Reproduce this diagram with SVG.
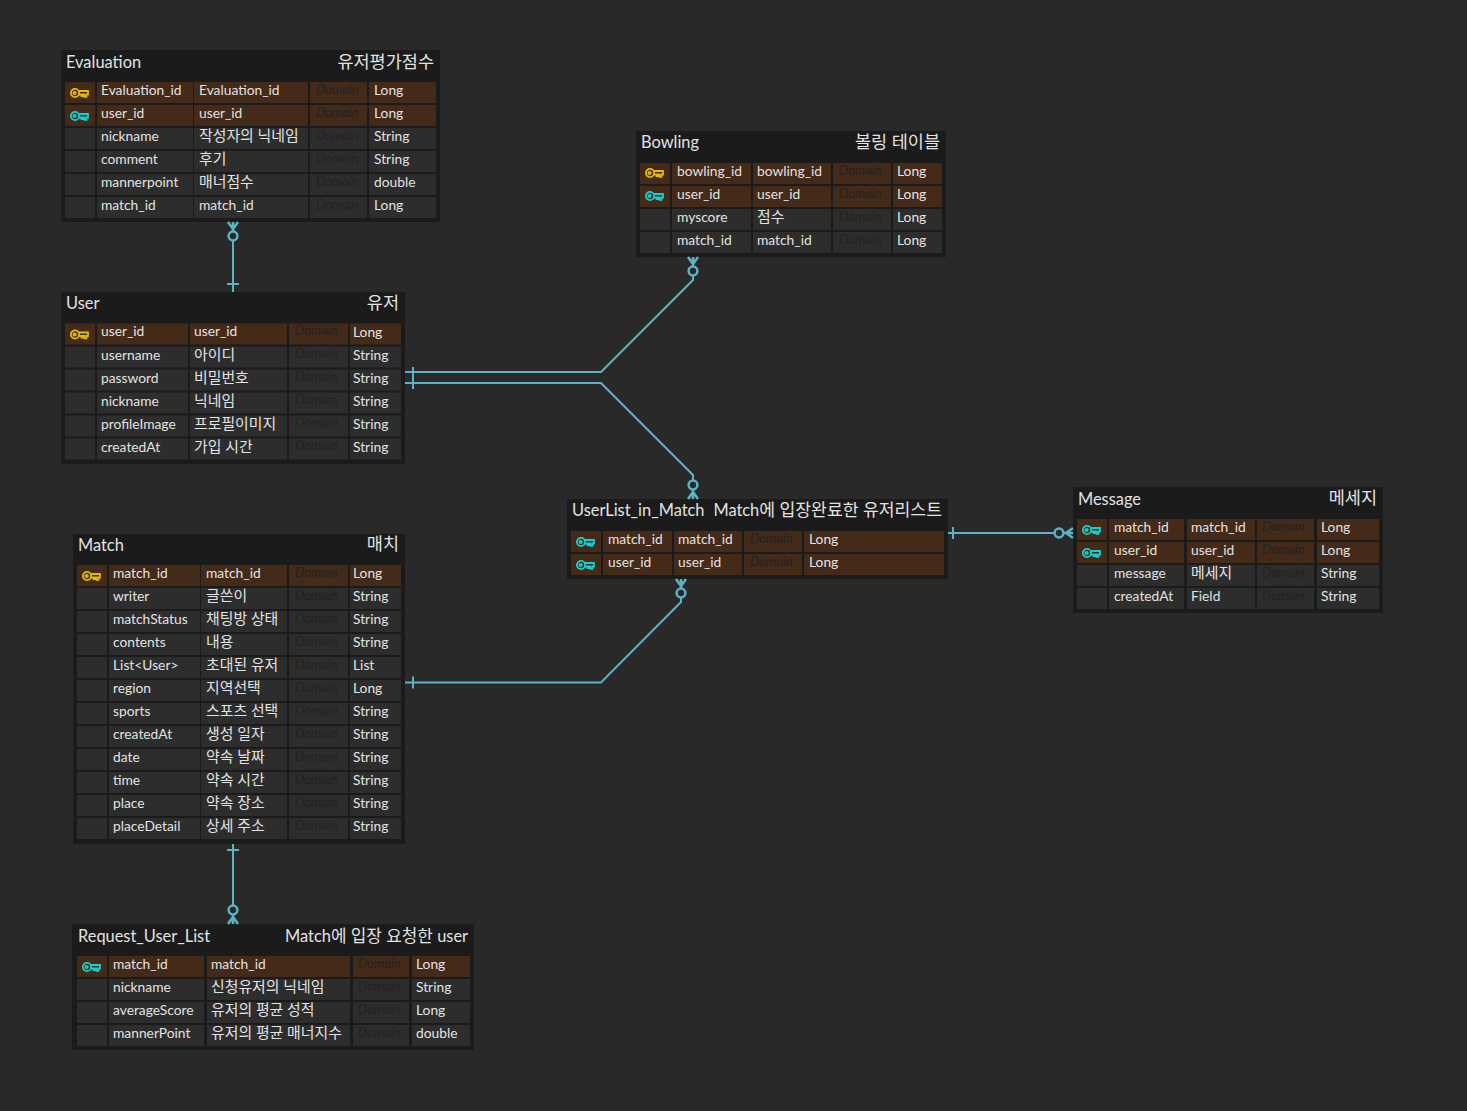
<svg xmlns="http://www.w3.org/2000/svg" xmlns:xlink="http://www.w3.org/1999/xlink" width="1467" height="1111" viewBox="0 0 1467 1111">
<style>
text{font-family:"Lato","Noto Sans CJK KR","Noto Sans",sans-serif;font-size:13.8px;fill:#e2e2e2}
.h{font-size:14.9px;transform:translateY(1px)}
.t{font-size:16.4px}
.th{font-size:17.5px}
text.th{transform:translateY(1px)}
.m1{font-size:17.2px}
.m2{font-size:16.9px}
.r{text-anchor:end}
.d{font-style:italic;fill:#222;font-size:13px}
.box{fill:#1b1b1b}
.n{fill:#2d2d2d}
.p{fill:#432a19}
.k{fill:none;stroke-width:1.8}
.g{stroke:#e3b90c}
.c{stroke:#17cfcf}
.ln{fill:none;stroke:#5ab4c4;stroke-width:2}
.f{fill:none;stroke:#5ab4c4;stroke-width:2.5}
</style>
<defs>
<g id="pk"><circle cx="5" cy="5" r="4.1"/><circle cx="4.600" cy="5" r="1.2"/><path d="M9 3H18V6.500H16.500V8.800H14.500V6.500H13V8H11.500V6.500H9"/></g>
<g id="crow" class="f"><path d="M-5 0L0 7L5 0M0 0V9"/><circle cx="0" cy="14" r="4.400"/></g>
<path id="tick" class="ln" d="M-6 0H6"/>
<g id="ev"><rect x="65" width="30" height="21"/><rect x="97" width="96" height="21"/><rect x="194" width="114" height="21"/><rect x="310" width="57" height="21"/><rect x="369" width="67" height="21"/></g>
<g id="us"><rect x="65" width="30" height="21"/><rect x="97" width="91" height="21"/><rect x="190" width="97" height="21"/><rect x="289" width="59" height="21"/><rect x="350" width="51" height="21"/></g>
<g id="ma"><rect x="77" width="30" height="21"/><rect x="109" width="91" height="21"/><rect x="201" width="86" height="21"/><rect x="289" width="59" height="21"/><rect x="350" width="51" height="21"/></g>
<g id="re"><rect x="77" width="30" height="21"/><rect x="109" width="95" height="21"/><rect x="207" width="143" height="21"/><rect x="353" width="56" height="21"/><rect x="412" width="58" height="21"/></g>
<g id="bo"><rect x="640" width="30" height="21"/><rect x="672" width="79" height="21"/><rect x="753" width="78" height="21"/><rect x="833" width="58" height="21"/><rect x="893" width="49" height="21"/></g>
<g id="ul"><rect x="571" width="30" height="21"/><rect x="603" width="69" height="21"/><rect x="674" width="68" height="21"/><rect x="744" width="58" height="21"/><rect x="804" width="140" height="21"/></g>
<g id="me"><rect x="1077" width="30" height="21"/><rect x="1109" width="75" height="21"/><rect x="1187" width="68" height="21"/><rect x="1257" width="57" height="21"/><rect x="1317" width="62" height="21"/></g>
</defs>
<rect width="1467" height="1111" fill="#292929"/>

<g id="Evaluation">
<rect class="box" x="61" y="50" width="379" height="172"/>
<text class="t" x="66" y="67.500">Evaluation</text><text class="th r" x="434" y="67">유저평가점수</text>
<use href="#ev" y="82" class="p"/><use href="#ev" y="105" class="p"/><use href="#ev" y="128" class="n"/><use href="#ev" y="151" class="n"/><use href="#ev" y="174" class="n"/><use href="#ev" y="197" class="n"/>
<use href="#pk" x="70" y="88" class="k g"/><use href="#pk" x="70" y="111" class="k c"/>
<text x="101" y="95">Evaluation_id</text><text x="199" y="95">Evaluation_id</text><text class="d" x="316" y="94">Domain</text><text x="374" y="95">Long</text>
<text x="101" y="118">user_id</text><text x="199" y="118">user_id</text><text class="d" x="316" y="117">Domain</text><text x="374" y="118">Long</text>
<text x="101" y="141">nickname</text><text class="h" x="199" y="140">작성자의 닉네임</text><text class="d" x="316" y="140">Domain</text><text x="374" y="141">String</text>
<text x="101" y="164">comment</text><text class="h" x="199" y="163">후기</text><text class="d" x="316" y="163">Domain</text><text x="374" y="164">String</text>
<text x="101" y="187">mannerpoint</text><text class="h" x="199" y="186">매너점수</text><text class="d" x="316" y="186">Domain</text><text x="374" y="187">double</text>
<text x="101" y="210">match_id</text><text x="199" y="210">match_id</text><text class="d" x="316" y="209">Domain</text><text x="374" y="210">Long</text>
</g>

<g id="User">
<rect class="box" x="61" y="292" width="344" height="172"/>
<text class="t" x="66" y="309">User</text><text class="th r" x="399" y="308">유저</text>
<use href="#us" y="323.500" class="p"/><use href="#us" y="346.500" class="n"/><use href="#us" y="369.500" class="n"/><use href="#us" y="392.500" class="n"/><use href="#us" y="415.500" class="n"/><use href="#us" y="438.500" class="n"/>
<use href="#pk" x="70" y="329.500" class="k g"/>
<text x="101" y="336">user_id</text><text x="194" y="336">user_id</text><text class="d" x="295" y="335">Domain</text><text x="353" y="336.500">Long</text>
<text x="101" y="359.500">username</text><text class="h" x="194" y="359">아이디</text><text class="d" x="295" y="358">Domain</text><text x="353" y="359.500">String</text>
<text x="101" y="382.500">password</text><text class="h" x="194" y="382">비밀번호</text><text class="d" x="295" y="381">Domain</text><text x="353" y="382.500">String</text>
<text x="101" y="405.500">nickname</text><text class="h" x="194" y="405">닉네임</text><text class="d" x="295" y="404">Domain</text><text x="353" y="405.500">String</text>
<text x="101" y="428.500">profileImage</text><text class="h" x="194" y="428">프로필이미지</text><text class="d" x="295" y="427">Domain</text><text x="353" y="428.500">String</text>
<text x="101" y="451.500">createdAt</text><text class="h" x="194" y="451">가입 시간</text><text class="d" x="295" y="450">Domain</text><text x="353" y="451.500">String</text>
</g>

<g id="Match">
<rect class="box" x="73" y="534" width="332" height="310"/>
<text class="t" x="78" y="551">Match</text><text class="th r" x="399" y="549">매치</text>
<use href="#ma" y="565" class="p"/><use href="#ma" y="588" class="n"/><use href="#ma" y="611" class="n"/><use href="#ma" y="634" class="n"/><use href="#ma" y="657" class="n"/><use href="#ma" y="680" class="n"/><use href="#ma" y="703" class="n"/><use href="#ma" y="726" class="n"/><use href="#ma" y="749" class="n"/><use href="#ma" y="772" class="n"/><use href="#ma" y="795" class="n"/><use href="#ma" y="818" class="n"/>
<use href="#pk" x="82" y="571" class="k g"/>
<text x="113" y="578">match_id</text><text x="206" y="578">match_id</text><text class="d" x="295" y="577">Domain</text><text x="353" y="578">Long</text>
<text x="113" y="601">writer</text><text class="h" x="206" y="600">글쓴이</text><text class="d" x="295" y="600">Domain</text><text x="353" y="601">String</text>
<text x="113" y="624">matchStatus</text><text class="h" x="206" y="623">채팅방 상태</text><text class="d" x="295" y="623">Domain</text><text x="353" y="624">String</text>
<text x="113" y="647">contents</text><text class="h" x="206" y="646">내용</text><text class="d" x="295" y="646">Domain</text><text x="353" y="647">String</text>
<text x="113" y="670">List&lt;User&gt;</text><text class="h" x="206" y="669">초대된 유저</text><text class="d" x="295" y="669">Domain</text><text x="353" y="670">List</text>
<text x="113" y="693">region</text><text class="h" x="206" y="692">지역선택</text><text class="d" x="295" y="692">Domain</text><text x="353" y="693">Long</text>
<text x="113" y="716">sports</text><text class="h" x="206" y="715">스포츠 선택</text><text class="d" x="295" y="715">Domain</text><text x="353" y="716">String</text>
<text x="113" y="739">createdAt</text><text class="h" x="206" y="738">생성 일자</text><text class="d" x="295" y="738">Domain</text><text x="353" y="739">String</text>
<text x="113" y="762">date</text><text class="h" x="206" y="761">약속 날짜</text><text class="d" x="295" y="761">Domain</text><text x="353" y="762">String</text>
<text x="113" y="785">time</text><text class="h" x="206" y="784">약속 시간</text><text class="d" x="295" y="784">Domain</text><text x="353" y="785">String</text>
<text x="113" y="808">place</text><text class="h" x="206" y="807">약속 장소</text><text class="d" x="295" y="807">Domain</text><text x="353" y="808">String</text>
<text x="113" y="831">placeDetail</text><text class="h" x="206" y="830">상세 주소</text><text class="d" x="295" y="830">Domain</text><text x="353" y="831">String</text>
</g>

<g id="Request_User_List">
<rect class="box" x="72" y="924" width="402" height="126"/>
<text class="t" x="78" y="942">Request_User_List</text><text class="t r" x="468" y="942">Match<tspan class="m2">에 입장 요청한 </tspan>user</text>
<use href="#re" y="956" class="p"/><use href="#re" y="979" class="n"/><use href="#re" y="1002" class="n"/><use href="#re" y="1025" class="n"/>
<use href="#pk" x="82" y="962" class="k c"/>
<text x="113" y="969">match_id</text><text x="211" y="969">match_id</text><text class="d" x="358" y="968">Domain</text><text x="416" y="969">Long</text>
<text x="113" y="992">nickname</text><text class="h" x="211" y="991">신청유저의 닉네임</text><text class="d" x="358" y="991">Domain</text><text x="416" y="992">String</text>
<text x="113" y="1015">averageScore</text><text class="h" x="211" y="1014">유저의 평균 성적</text><text class="d" x="358" y="1014">Domain</text><text x="416" y="1015">Long</text>
<text x="113" y="1038">mannerPoint</text><text class="h" x="211" y="1037">유저의 평균 매너지수</text><text class="d" x="358" y="1037">Domain</text><text x="416" y="1038">double</text>
</g>

<g id="Bowling">
<rect class="box" x="636" y="131" width="310" height="126"/>
<text class="t" x="641" y="148">Bowling</text><text class="th r" x="940" y="147">볼링 테이블</text>
<use href="#bo" y="163" class="p"/><use href="#bo" y="186" class="p"/><use href="#bo" y="209" class="n"/><use href="#bo" y="232" class="n"/>
<use href="#pk" x="645" y="168" class="k g"/><use href="#pk" x="645" y="191" class="k c"/>
<text x="677" y="176">bowling_id</text><text x="757" y="176">bowling_id</text><text class="d" x="839" y="175">Domain</text><text x="897" y="176">Long</text>
<text x="677" y="199">user_id</text><text x="757" y="199">user_id</text><text class="d" x="839" y="198">Domain</text><text x="897" y="199">Long</text>
<text x="677" y="222">myscore</text><text class="h" x="757" y="221">점수</text><text class="d" x="839" y="221">Domain</text><text x="897" y="222">Long</text>
<text x="677" y="245">match_id</text><text x="757" y="245">match_id</text><text class="d" x="839" y="244">Domain</text><text x="897" y="245">Long</text>
</g>

<g id="UserList_in_Match">
<rect class="box" x="567" y="499" width="381" height="80"/>
<text class="t" x="572" y="516">UserList_in_Match</text><text class="t r" x="942" y="516">Match<tspan class="m1">에 입장완료한 유저리스트</tspan></text>
<use href="#ul" y="531" class="p"/><use href="#ul" y="554" class="p"/>
<use href="#pk" x="576" y="537" class="k c"/><use href="#pk" x="576" y="560" class="k c"/>
<text x="608" y="544">match_id</text><text x="678" y="544">match_id</text><text class="d" x="750" y="543">Domain</text><text x="809" y="544">Long</text>
<text x="608" y="567">user_id</text><text x="678" y="567">user_id</text><text class="d" x="750" y="566">Domain</text><text x="809" y="567">Long</text>
</g>

<g id="Message">
<rect class="box" x="1073" y="487" width="310" height="126"/>
<text class="t" x="1078" y="504.500">Message</text><text class="th r" x="1377" y="503">메세지</text>
<use href="#me" y="519" class="p"/><use href="#me" y="542" class="p"/><use href="#me" y="565" class="n"/><use href="#me" y="588" class="n"/>
<use href="#pk" x="1082" y="525" class="k c"/><use href="#pk" x="1082" y="548" class="k c"/>
<text x="1114" y="532">match_id</text><text x="1191" y="532">match_id</text><text class="d" x="1262" y="531">Domain</text><text x="1321" y="532">Long</text>
<text x="1114" y="555">user_id</text><text x="1191" y="555">user_id</text><text class="d" x="1262" y="554">Domain</text><text x="1321" y="555">Long</text>
<text x="1114" y="578">message</text><text class="h" x="1191" y="577">메세지</text><text class="d" x="1262" y="577">Domain</text><text x="1321" y="578">String</text>
<text x="1114" y="601">createdAt</text><text x="1191" y="601">Field</text><text class="d" x="1262" y="600">Domain</text><text x="1321" y="601">String</text>
</g>

<g id="connectors">
<path class="ln" d="M233 241V292"/><use href="#crow" transform="translate(233 222)"/><use href="#tick" transform="translate(233 284)"/>
<path class="ln" d="M405 372H601L693 280V275"/><use href="#crow" transform="translate(693 257)"/>
<path class="ln" d="M405 383H601L693 475V481"/><use href="#crow" transform="translate(693 499) rotate(180)"/>
<path class="ln" d="M413 367V389"/>
<path class="ln" d="M405 682.500H601L681 602V597"/><use href="#crow" transform="translate(681 579)"/><use href="#tick" transform="translate(413 682.500) rotate(90)"/>
<path class="ln" d="M233 844V906"/><use href="#crow" transform="translate(233 924) rotate(180)"/><use href="#tick" transform="translate(233 850)"/>
<path class="ln" d="M948 533H1054"/><use href="#crow" transform="translate(1073 533) rotate(90)"/><use href="#tick" transform="translate(953 533) rotate(90)"/>
</g>
</svg>
